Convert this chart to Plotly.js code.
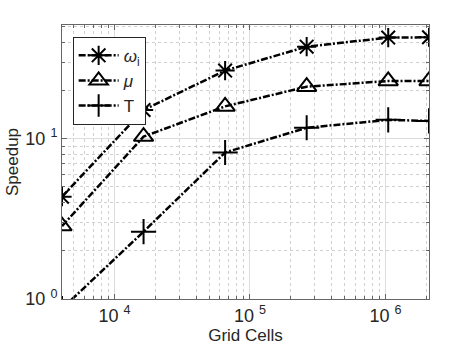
<!DOCTYPE html>
<html>
<head>
<meta charset="utf-8">
<script src="https://cdn.plot.ly/plotly-3.0.1.min.js"></script>
<style>html,body{margin:0;padding:0;background:#fff}#chart{width:474px;height:350px}</style>
</head>
<body>
<div id="chart"></div>
<script>
var gridCells = [4096, 16384, 65536, 262144, 1048576, 2097152];
var omegaSpeedup = [4.35, 15.1, 26.6, 37.5, 42.7, 42.9];
var muSpeedup = [2.85, 10.3, 15.9, 21.1, 22.9, 22.9];
var tSpeedup = [0.87, 2.63, 8.2, 11.7, 13.1, 12.9];
var seriesNames = ['<i>ω</i><sub>i</sub>', '<i>μ</i>', 'T'];
var xTickVals = [1e4, 1e5, 1e6];
var xTickText = ['10 <sup>4</sup>', '10 <sup>5</sup>', '10 <sup>6</sup>'];
var yTickVals = [1, 10];
var yTickText = ['10 <sup>0</sup>', '10 <sup>1</sup>'];

var lineStyle = {color: '#000', width: 2.5, dash: '7px,2px,2px,2px'};
function trace(y, name, symbol, size) {
  return {
    x: gridCells, y: y, name: name, type: 'scatter', mode: 'lines+markers',
    line: lineStyle,
    marker: {symbol: symbol, size: size, color: '#000', line: {color: '#000', width: 2}}
  };
}
var data = [
  trace(omegaSpeedup, seriesNames[0], 'asterisk-open', 16),
  trace(muSpeedup, seriesNames[1], 'triangle-up-open', 17),
  trace(tSpeedup, seriesNames[2], 'cross-thin-open', 18)
];
var axisCommon = {
  type: 'log', showline: true, linecolor: '#666', linewidth: 1, mirror: 'ticks',
  ticks: 'inside', ticklen: 5, tickcolor: '#666', tickmode: 'array',
  showgrid: true, gridcolor: '#dcdcdc', gridwidth: 1, zeroline: false,
  tickfont: {size: 18, color: '#262626'},
  minor: {dtick: 'D1', ticks: 'inside', ticklen: 3, tickcolor: '#666', showgrid: true,
          gridcolor: '#d0d0d0', griddash: 'dot', gridwidth: 1}
};
var layout = {
  width: 474, height: 350,
  margin: {l: 62, r: 45, t: 25, b: 51},
  paper_bgcolor: '#fff', plot_bgcolor: '#fff',
  font: {family: 'Liberation Sans, Arial, sans-serif', color: '#262626'},
  showlegend: true,
  legend: {x: 0.029, y: 0.957, xanchor: 'left', yanchor: 'top', bgcolor: '#fff',
           bordercolor: '#262626', borderwidth: 1, font: {size: 17, color: '#262626'},
           itemwidth: 40},
  xaxis: Object.assign({}, axisCommon, {
    range: [Math.log10(4096), Math.log10(2097152)],
    tickvals: xTickVals, ticktext: xTickText,
    title: {text: 'Grid Cells', font: {size: 17}, standoff: 4}
  }),
  yaxis: Object.assign({}, axisCommon, {
    range: [0, 1.709],
    tickvals: yTickVals, ticktext: yTickText,
    title: {text: 'Speedup', font: {size: 17}, standoff: 2}
  })
};
Plotly.newPlot('chart', data, layout, {displayModeBar: false, staticPlot: true});
</script>
</body>
</html>
